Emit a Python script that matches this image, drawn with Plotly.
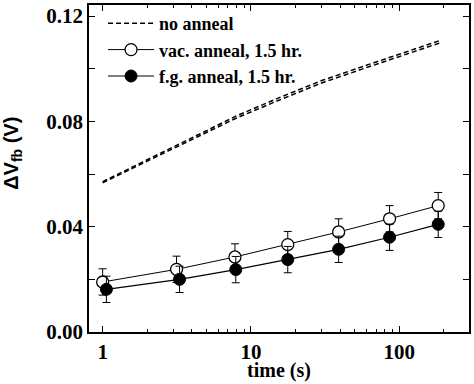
import plotly.graph_objects as go

# no anneal (two nearly overlapping dashed traces)
t_dash = [1, 2, 4, 8, 16, 30, 60, 120, 190]
no_anneal_a = [0.0567, 0.0649, 0.0731, 0.0813, 0.0884, 0.0946, 0.1004, 0.1062, 0.1099]
no_anneal_b = [0.0571, 0.0655, 0.0739, 0.0821, 0.0893, 0.0955, 0.1013, 0.1071, 0.1108]

# vac. anneal, 1.5 hr.
t_vac = [1.0, 3.15, 7.8, 17.7, 39, 86, 183]
vac = [0.0190, 0.0238, 0.0285, 0.0332, 0.0380, 0.0430, 0.0480]
vac_err = [0.005, 0.005, 0.005, 0.005, 0.005, 0.005, 0.005]

# f.g. anneal, 1.5 hr.
t_fg = [1.06, 3.3, 7.9, 17.7, 39, 86, 183]
fg = [0.0162, 0.0200, 0.0237, 0.0275, 0.0314, 0.0360, 0.0409]
fg_err = [0.005, 0.005, 0.005, 0.005, 0.005, 0.005, 0.005]

x_major = [1, 10, 100]
x_labels = ["1", "10", "100"]
x_minor = [2, 3, 4, 5, 6, 7, 8, 9, 20, 30, 40, 50, 60, 70, 80, 90, 200]
y_major = [0.00, 0.04, 0.08, 0.12]
y_labels = ["0.00", "0.04", "0.08", "0.12"]

serif = "Liberation Serif"
sans = "Liberation Sans"

def b(s):
    return "<b>" + s + "</b>"

fig = go.Figure()
fig.add_trace(go.Scatter(x=t_dash, y=no_anneal_a, mode="lines", name=b("no anneal"),
                         line=dict(color="black", width=1.5, dash="5px,3px")))
fig.add_trace(go.Scatter(x=t_dash, y=no_anneal_b, mode="lines", name="no anneal b",
                         showlegend=False,
                         line=dict(color="black", width=1.5, dash="5px,3px")))
fig.add_trace(go.Scatter(x=t_vac, y=vac, mode="lines+markers", name=b("vac. anneal, 1.5 hr."),
                         line=dict(color="black", width=1),
                         marker=dict(symbol="circle", size=12, color="white",
                                     line=dict(color="black", width=1.3)),
                         error_y=dict(type="data", array=vac_err, color="black",
                                      thickness=1, width=4)))
fig.add_trace(go.Scatter(x=t_fg, y=fg, mode="lines+markers", name=b("f.g. anneal, 1.5 hr."),
                         line=dict(color="black", width=1.2),
                         marker=dict(symbol="circle", size=12, color="black",
                                     line=dict(color="black", width=1)),
                         error_y=dict(type="data", array=fg_err, color="black",
                                      thickness=1, width=4)))

fig.add_annotation(text=b("ΔV<sub>fb</sub> (V)"), textangle=-90,
                   xref="paper", yref="paper", x=-0.2, y=0.545,
                   xanchor="center", yanchor="middle", showarrow=False,
                   font=dict(family=sans, size=20, color="black"))
fig.add_annotation(text=b("time (s)"),
                   xref="paper", yref="paper", x=0.5, y=-0.119,
                   xanchor="center", yanchor="middle", showarrow=False,
                   font=dict(family=serif, size=20, color="black"))

fig.update_layout(
    width=474, height=384,
    margin=dict(l=89, r=3, t=4, b=52),
    paper_bgcolor="white", plot_bgcolor="white",
    font=dict(family=serif, size=18, color="black"),
    showlegend=True,
    legend=dict(x=0.037, y=1.0, xanchor="left", yanchor="top",
                bgcolor="rgba(0,0,0,0)", font=dict(family=serif, size=18, color="black"),
                tracegroupgap=0, itemwidth=46),
    xaxis=dict(type="log", range=[-0.092, 2.47],
               tickvals=x_major, ticktext=[b(s) for s in x_labels],
               ticks="inside", ticklen=6, tickwidth=1.2, tickcolor="black",
               showline=True, linecolor="black", linewidth=1.5, mirror="ticks",
               showgrid=False, zeroline=False,
               tickfont=dict(family=serif, size=21, color="black"),
               minor=dict(tickvals=x_minor, ticks="inside", ticklen=3, tickcolor="black", showgrid=False)),
    yaxis=dict(range=[0, 0.1242],
               tickvals=y_major, ticktext=[b(s) for s in y_labels],
               ticks="inside", ticklen=6, tickwidth=1.2, tickcolor="black",
               showline=True, linecolor="black", linewidth=1.5, mirror="ticks",
               showgrid=False, zeroline=False,
               tickfont=dict(family=serif, size=21, color="black"),
               minor=dict(dtick=0.02, tick0=0, ticks="inside", ticklen=6, tickcolor="black", showgrid=False)),
)

fig.write_html("out.html", config={"displayModeBar": False},
               post_script="document.body.style.margin='0';")
